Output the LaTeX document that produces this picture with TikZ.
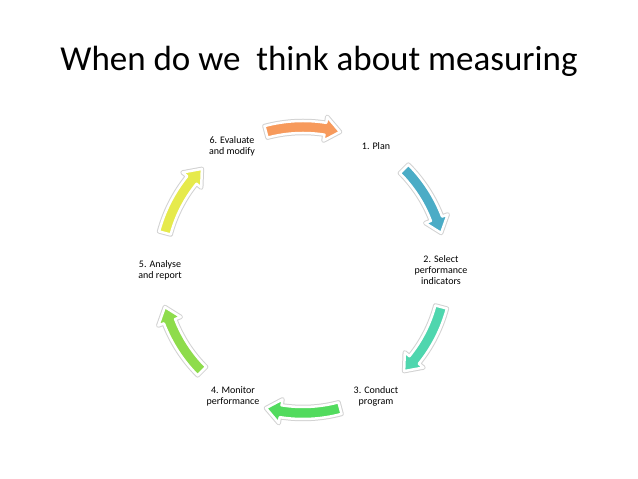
\documentclass[tikz,border=0pt]{standalone}
\usepackage{fontspec}
\setmainfont{Carlito}
\usetikzlibrary{calc}
\definecolor{cOr}{HTML}{F79A5C}
\definecolor{cBl}{HTML}{4BACC6}
\definecolor{cTe}{HTML}{4FD6AE}
\definecolor{cGr}{HTML}{52DB5E}
\definecolor{cLg}{HTML}{8EDC4C}
\definecolor{cYe}{HTML}{E6EA4C}
\begin{document}
\begin{tikzpicture}[x=1pt,y=1pt,
  lbl/.style={font=\fontsize{10}{11}\selectfont,align=center,inner sep=1pt}]
\useasboundingbox (0,0) rectangle (638,479);
\fill[white] (0,0) rectangle (638,479);
\node (title) at (319,418) {\fontsize{35}{40}\selectfont When do we\ \ think about measuring};
\coordinate (C) at (303,209);
\def\R{143}\def\w{6}\def\h{12}\def\d{6}
\foreach \a/\b/\col in {105/75/cOr,45/15/cBl,-15/-45/cTe,-75/-105/cGr,-135/-165/cLg,165/135/cYe}{
  \pgfmathsetmacro\bd{\b+\d}
  \def\arr{($(C)+(\a:\R+\w)$) arc[start angle=\a,end angle=\bd,radius=\R+\w]
    -- ($(C)+(\bd:\R+\h)$) -- ($(C)+(\b:\R)$) -- ($(C)+(\bd:\R-\h)$) -- ($(C)+(\bd:\R-\w)$)
    arc[start angle=\bd,end angle=\a,radius=\R-\w] -- cycle}
  \draw[gray!35,line width=4.5,line join=round] \arr;
  \filldraw[fill=\col,draw=white,line width=2.5,line join=round] \arr;
}
\node[lbl] (n1) at (376,333) {1. Plan};
\node[lbl] (n2) at (441,209) {2. Select\\performance\\indicators};
\node[lbl] (n3) at (376,83) {3. Conduct\\program};
\node[lbl] (n4) at (233,83) {4. Monitor\\performance};
\node[lbl] (n5) at (160,209) {5. Analyse\\and report};
\node[lbl] (n6) at (232,333) {6. Evaluate\\and modify};
\end{tikzpicture}
\end{document}
